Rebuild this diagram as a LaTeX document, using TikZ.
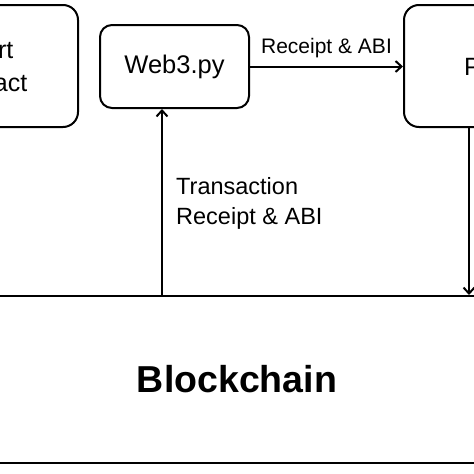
\documentclass[tikz,border=0pt]{standalone}
\usepackage{fontspec}
\setmainfont{Liberation Sans}
\usetikzlibrary{positioning,arrows.meta}

\begin{document}
\begin{tikzpicture}[
  x=1pt, y=-1pt,
  box/.style={draw, line width=2pt, rounded corners=15pt, align=center, inner sep=0pt},
  arrow/.style={-{Straight Barb[length=6pt,width=11pt]}, line width=2pt},
  lbl/.style={font=\fontsize{21}{26}\selectfont, inner sep=3pt}
]
\useasboundingbox (0,0) rectangle (474,474);
\clip (0,0) rectangle (474,474);
\node[box, minimum width=196pt, minimum height=122pt, font=\fontsize{25}{33}\selectfont] (contract) at (-20,66) {Smart\\Contract};
\node[box, rounded corners=12pt, minimum width=149pt, minimum height=83pt, font=\fontsize{25.5}{30}\selectfont] (web3) at (174.5,66.5) {Web3.py};
\node[box, minimum width=196pt, minimum height=122pt] (pybox) at (502,66) {};
\node[anchor=west, inner sep=0pt, font=\fontsize{25}{30}\selectfont] (ptext) at (464,67) {P};
\node[draw, line width=2pt, minimum width=494pt, minimum height=167pt, font=\bfseries\fontsize{37.5}{44}\selectfont] (chain) at (237,379.5) {Blockchain};
% connectors
\draw[arrow] (web3.east) -- node[lbl, above=5pt] (rcpt) {Receipt \& ABI} (web3.east -| pybox.west);
\coordinate (up) at (162,296);
\draw[arrow] (up) -- (up |- web3.south);
\node[lbl, anchor=west, align=left, font=\fontsize{23.5}{30}\selectfont] (tx) at (173,203) {Transaction\\Receipt \& ABI};
\coordinate (down) at (469,127);
\draw[arrow] (down) -- (down |- chain.north);
\end{tikzpicture}
\end{document}
